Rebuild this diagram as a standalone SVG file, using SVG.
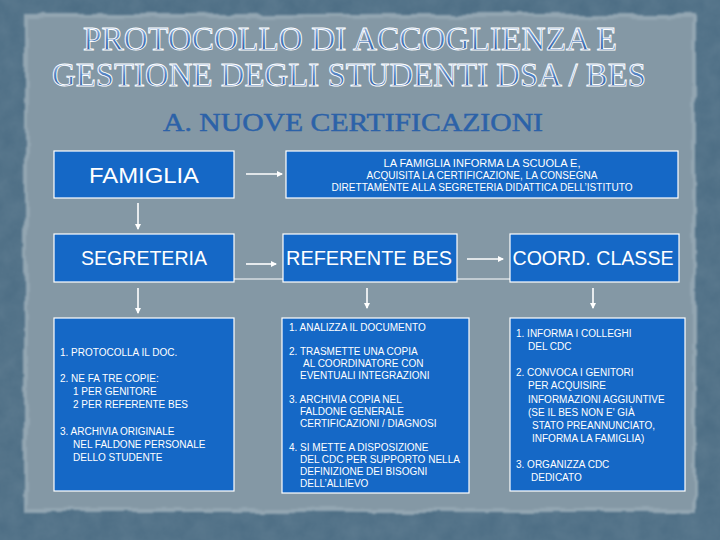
<svg xmlns="http://www.w3.org/2000/svg" width="720" height="540" viewBox="0 0 720 540">
<defs>
<linearGradient id="tg" x1="0" y1="0" x2="0" y2="1">
<stop offset="0" stop-color="#b9d0ec"/>
<stop offset="0.5" stop-color="#4f7fc0"/>
<stop offset="1" stop-color="#1d4a94"/>
</linearGradient>
<filter id="rough" x="-5%" y="-5%" width="110%" height="110%">
<feTurbulence type="fractalNoise" baseFrequency="0.03" numOctaves="3" seed="4" result="n"/>
<feDisplacementMap in="SourceGraphic" in2="n" scale="9" xChannelSelector="R" yChannelSelector="G" result="d"/>
<feGaussianBlur in="d" stdDeviation="0.8"/>
</filter>
<filter id="grain" x="0" y="0" width="100%" height="100%">
<feTurbulence type="fractalNoise" baseFrequency="0.05" numOctaves="4" seed="7" result="t"/>
<feColorMatrix in="t" type="matrix" values="0 0 0 0 0.2  0 0 0 0 0.3  0 0 0 0 0.38  0 0 0 0.35 0"/>
</filter>
<marker id="ah" markerWidth="6" markerHeight="6" refX="5" refY="3" orient="auto" markerUnits="userSpaceOnUse">
<path d="M0,0 L6,3 L0,6 Z" fill="#ffffff"/>
</marker>
<style>
.box{fill:#1568c6;stroke:#ffffff;stroke-width:1.2}
.big{font-family:"Liberation Sans",Arial,sans-serif;fill:#ffffff;text-anchor:middle}
.sm{font-family:"Liberation Sans",Arial,sans-serif;fill:#ffffff;font-size:10px}
.conn line{stroke:#ffffff;stroke-width:1.6;marker-end:url(#ah)}
.title{font-family:"Liberation Serif","Times New Roman",serif;font-size:33px;fill:url(#tg);stroke:#ffffff;stroke-width:0.9;text-anchor:middle}
</style>
</defs>
<rect x="0" y="0" width="720" height="540" fill="#4b6c83"/>
<rect x="0" y="0" width="720" height="540" filter="url(#grain)"/>
<rect x="24" y="14" width="672" height="498" fill="#93a6b2" filter="url(#rough)"/>
<rect x="28" y="18" width="664" height="490" fill="#8498a5" filter="url(#rough)"/>

<g id="title">
<text class="title" x="350" y="50" textLength="534" lengthAdjust="spacingAndGlyphs">PROTOCOLLO DI ACCOGLIENZA E</text>
<text class="title" x="349" y="86" textLength="594" lengthAdjust="spacingAndGlyphs">GESTIONE DEGLI STUDENTI DSA / BES</text>
<text x="353" y="131" font-family="'Liberation Serif','Times New Roman',serif" font-size="26" fill="#2c62a8" stroke="#2c62a8" stroke-width="0.5" text-anchor="middle" textLength="380" lengthAdjust="spacingAndGlyphs">A. NUOVE CERTIFICAZIONI</text>
</g>

<g id="connectors" class="conn">
<line x1="246" y1="174" x2="282" y2="174"/>
<line x1="138" y1="203" x2="138" y2="229"/>
<line x1="246" y1="264" x2="276" y2="264"/>
<line x1="467" y1="259" x2="503" y2="259"/>
<line x1="138" y1="288" x2="138" y2="313"/>
<line x1="367" y1="288" x2="367" y2="308"/>
<line x1="593" y1="288" x2="593" y2="308"/>
<path d="M234,279 L283,279 M457,279 L510,279" stroke="#ffffff" stroke-width="1" fill="none"/>
</g>

<g id="famiglia">
<rect class="box" x="54" y="151" width="180" height="47"/>
<text class="big" x="144" y="183" font-size="22" textLength="110" lengthAdjust="spacingAndGlyphs">FAMIGLIA</text>
</g>

<g id="info">
<rect class="box" x="286" y="151" width="392" height="47"/>
<text class="sm" x="482" y="167" font-size="9" text-anchor="middle" textLength="197" lengthAdjust="spacingAndGlyphs">LA FAMIGLIA INFORMA LA SCUOLA E,</text>
<text class="sm" x="482" y="179" font-size="9" text-anchor="middle" textLength="231" lengthAdjust="spacingAndGlyphs">ACQUISITA LA CERTIFICAZIONE, LA CONSEGNA</text>
<text class="sm" x="482" y="190.5" font-size="9" text-anchor="middle" textLength="301" lengthAdjust="spacingAndGlyphs">DIRETTAMENTE ALLA SEGRETERIA DIDATTICA DELL’ISTITUTO</text>
</g>

<g id="segreteria">
<rect class="box" x="54" y="234" width="180" height="48"/>
<text class="big" x="144" y="265" font-size="20" textLength="126" lengthAdjust="spacingAndGlyphs">SEGRETERIA</text>
</g>

<g id="referente">
<rect class="box" x="283" y="234" width="174" height="48"/>
<text class="big" x="369" y="265" font-size="20" textLength="166" lengthAdjust="spacingAndGlyphs">REFERENTE BES</text>
</g>

<g id="coord">
<rect class="box" x="510" y="234" width="169" height="48"/>
<text class="big" x="593" y="265" font-size="20" textLength="161" lengthAdjust="spacingAndGlyphs">COORD. CLASSE</text>
</g>

<g id="segreteria-tasks">
<rect class="box" x="54" y="318" width="180" height="173"/>
<text class="sm" font-size="11">
<tspan x="60" y="356">1. PROTOCOLLA IL DOC.</tspan>
<tspan x="60" y="382">2. NE FA TRE COPIE:</tspan>
<tspan x="73" y="395">1 PER GENITORE</tspan>
<tspan x="73" y="408">2 PER REFERENTE BES</tspan>
<tspan x="60" y="435">3. ARCHIVIA ORIGINALE</tspan>
<tspan x="73" y="448">NEL FALDONE PERSONALE</tspan>
<tspan x="73" y="461">DELLO STUDENTE</tspan>
</text>
</g>

<g id="referente-tasks">
<rect class="box" x="282" y="318" width="187" height="175"/>
<text class="sm" font-size="10">
<tspan x="289" y="331">1. ANALIZZA IL DOCUMENTO</tspan>
<tspan x="289" y="355">2. TRASMETTE UNA  COPIA</tspan>
<tspan x="303" y="367">AL COORDINATORE  CON</tspan>
<tspan x="300" y="379">EVENTUALI INTEGRAZIONI</tspan>
<tspan x="289" y="403">3. ARCHIVIA COPIA NEL</tspan>
<tspan x="300" y="415">FALDONE GENERALE</tspan>
<tspan x="300" y="427">CERTIFICAZIONI / DIAGNOSI</tspan>
<tspan x="289" y="451">4. SI METTE A DISPOSIZIONE</tspan>
<tspan x="300" y="463">DEL CDC PER SUPPORTO NELLA</tspan>
<tspan x="300" y="475">DEFINIZIONE DEI BISOGNI</tspan>
<tspan x="300" y="487">DELL’ALLIEVO</tspan>
</text>
</g>

<g id="coord-tasks">
<rect class="box" x="510" y="318" width="175" height="173"/>
<text class="sm" font-size="10.5">
<tspan x="516" y="337">1. INFORMA I COLLEGHI</tspan>
<tspan x="528" y="350">DEL CDC</tspan>
<tspan x="516" y="376">2. CONVOCA I GENITORI</tspan>
<tspan x="528" y="389">PER ACQUISIRE</tspan>
<tspan x="528" y="403">INFORMAZIONI AGGIUNTIVE</tspan>
<tspan x="528" y="416">(SE IL BES NON E' GIÀ</tspan>
<tspan x="532" y="429">STATO PREANNUNCIATO,</tspan>
<tspan x="532" y="442">INFORMA LA FAMIGLIA)</tspan>
<tspan x="516" y="468">3. ORGANIZZA CDC</tspan>
<tspan x="531" y="481">DEDICATO</tspan>
</text>
</g>
</svg>
